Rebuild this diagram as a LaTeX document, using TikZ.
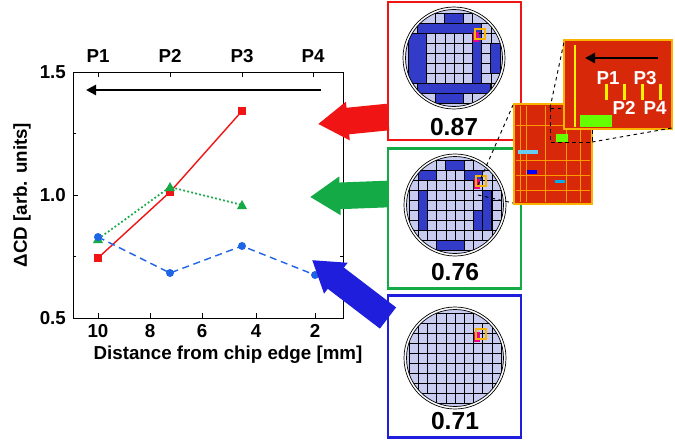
\documentclass[tikz,border=0pt]{standalone}
\usepackage{fontspec}
\setmainfont{Liberation Sans}
\usetikzlibrary{arrows.meta}
\definecolor{wfill}{RGB}{200,204,240}
\definecolor{wblue}{RGB}{50,60,200}
\definecolor{cred}{RGB}{240,20,20}
\definecolor{cgreen}{RGB}{20,170,70}
\definecolor{cblue}{RGB}{30,100,230}
\definecolor{bblue}{RGB}{30,30,220}
\definecolor{orng}{RGB}{250,180,0}
\definecolor{chipred}{RGB}{215,40,10}
\tikzset{
 lbl/.style={font=\bfseries\fontsize{16}{16}\selectfont},
 val/.style={font=\bfseries\fontsize{21}{21}\selectfont},
 fat/.style={line width=#1, -{Triangle[length=9mm,width=11mm]}},
 cell/.style={draw=black, line width=0.5pt},
}
\newcommand\wafer[3]{%
 \begin{scope}[shift={(#1,#2)}]
  \draw[line width=0.6pt] (0,0) circle[radius=51];
  \fill[wfill] (0,0) circle[radius=48.5];
  \begin{scope}
  \clip (0,0) circle[radius=48.5];
  \foreach \r/\a/\b in {0/3/6,1/1/8,2/0/9,3/0/9,4/0/9,5/0/9,6/0/9,7/1/8,8/3/6}{
   \foreach \c in {\a,...,\b}{
    \draw[cell] ({-46+9.2*\c},{-45+10*\r}) rectangle ++(9.2,10);
   }}
  \foreach \c/\r/\w/\h in {#3}{
   \fill[wblue,draw=black,line width=0.6pt] ({-46+9.2*\c},{-45+10*\r}) rectangle ++({9.2*\w},{10*\h});
  }
  \end{scope}
  \draw[line width=0.6pt] (0,0) circle[radius=48.5];
  \fill[magenta] (19,-26) rectangle ++(6,10);
  \draw[orng,line width=1pt] (21,-29) rectangle ++(10,10);
 \end{scope}}
\begin{document}
\begin{tikzpicture}[x=0.3mm,y=-0.3mm]
\useasboundingbox (0,0) rectangle (675,440);
\draw[line width=0.8pt] (73,72) rectangle (343,318);
\foreach \v/\y in {1.5/72,1.0/195,0.5/318}{
 \draw (73,\y) -- ++(5,0); \draw (343,\y) -- ++(-5,0);
 \node[lbl,anchor=east] at (70,\y) {\v};}
\foreach \y in {133.5,256.5}{\draw (73,\y) -- ++(3,0); \draw (343,\y) -- ++(-3,0);}
\foreach \v/\x in {10/98,8/150,6/202,4/256,2/315}{
 \draw (\x,318) -- ++(0,-5);
 \node[lbl,anchor=north] at (\x,320) {\v};}
\foreach \p/\x in {P1/98,P2/170,P3/242,P4/313}{
 \draw (\x,72) -- ++(0,5);
 \node[lbl,anchor=south] at (\x,67) {\p};}
\node[lbl,rotate=90] at (22,195) {ΔCD [arb. units]};
\node[lbl] at (228,355) {Distance from chip edge [mm]};
\draw[line width=2.5pt,-{Triangle[length=3mm,width=3mm]}] (321,90) -- (86,90);
\draw[cred,line width=1.2pt] (98,258) -- (170,192) -- (242,111);
\foreach \x/\y in {98/258,170/192,242/111}{\fill[cred] (\x-4,\y-4) rectangle ++(8,8);}
\draw[cgreen,line width=1.5pt,dotted] (98,239) -- (170,187) -- (242,205);
\foreach \x/\y in {98/239,170/187,242/205}{\fill[cgreen] (\x-5,\y+4) -- (\x+5,\y+4) -- (\x,\y-5) -- cycle;}
\draw[cblue,line width=1.2pt,dash pattern=on 6pt off 4pt] (98,237) -- (170,273) -- (242,246) -- (315,275);
\foreach \x/\y in {98/237,170/273,242/246,315/275}{\fill[cblue] (\x,\y) circle[radius=4];}
\node[draw=cred,line width=2pt,minimum width=133*0.3mm,minimum height=138*0.3mm] (rb) at (454.5,71) {};
\node[draw=cgreen,line width=2pt,minimum width=133*0.3mm,minimum height=140*0.3mm] (gb) at (454.5,218.5) {};
\node[draw=bblue,line width=2pt,minimum width=133*0.3mm,minimum height=142*0.3mm] (bb) at (454.5,366.5) {};
\wafer{454}{58}{4/0/2/1, 1/1/7/1, 0/2/2/5, 1/7/8/1, 3/8/3/1, 7/2/1/5, 9/3/1/3}
\wafer{455}{205}{4/0/2/1, 1/1/2/1, 6/1/2/1, 1/3/1/4, 8/3/1/4, 7/5/1/2, 3/8/3/1}
\wafer{455}{358}{}
\node[val] at (454,127) {0.87};
\node[val] at (455,272) {0.76};
\node[val] at (455,421) {0.71};
\coordinate (ra) at (388,117); \coordinate (rt) at (318,124);
\coordinate (ga) at (388,194); \coordinate (gt) at (310,197);
\coordinate (ba) at (388,318); \coordinate (bt) at (312,260);
\draw[cred,fat=8mm] (ra) -- (rt);
\draw[cgreen,fat=8mm] (ga) -- (gt);
\draw[bblue,fat=8mm] (ba) -- (bt);
\node[draw=orng,line width=2pt,fill=chipred,minimum width=78*0.3mm,minimum height=100*0.3mm,inner sep=0] (chip) at (553,154) {};
\foreach \x in {520,526,545,566,580}{\draw[orange!80!yellow,line width=0.8pt] (\x,106) -- (\x,202);}
\foreach \y in {125,160,175,190}{\draw[orange!80!yellow,line width=0.6pt] (516,\y) -- (590,\y);}
\fill[green!60!yellow] (556,134) rectangle (568,142);
\fill[cyan!60] (518,150) rectangle (538,154);
\fill[blue] (527,170) rectangle (537,174);
\fill[cyan] (555,180) rectangle (565,183);
\draw[dashed,line width=0.8pt] (550,108) rectangle (592,142);
\node[draw=orng,line width=2pt,fill=chipred,minimum width=108*0.3mm,minimum height=89*0.3mm,inner sep=0] (zoom) at (618,84.5) {};
\fill[green!60!yellow] (580,115) rectangle (612,127);
\draw[yellow,line width=1.5pt] (575,45) -- (575,127);
\foreach \x in {606,624,642,660}{\fill[yellow] (\x-1.5,84) rectangle ++(3,16);}
\draw[line width=2.5pt,-{Triangle[length=3mm,width=3mm]}] (658,58) -- (585,58);
\node[lbl,white] at (608,78) {P1}; \node[lbl,white] at (645,78) {P3};
\node[lbl,white] at (624,108) {P2}; \node[lbl,white] at (655,108) {P4};
\draw[dashed,line width=0.8pt] (478,185) -- (513,105);
\draw[dashed,line width=0.8pt] (478,195) -- (513,203);
\draw[dashed,line width=0.8pt] (550,108) -- (564,42);
\draw[dashed,line width=0.8pt] (592,142) -- (672,128);
\end{tikzpicture}
\end{document}
